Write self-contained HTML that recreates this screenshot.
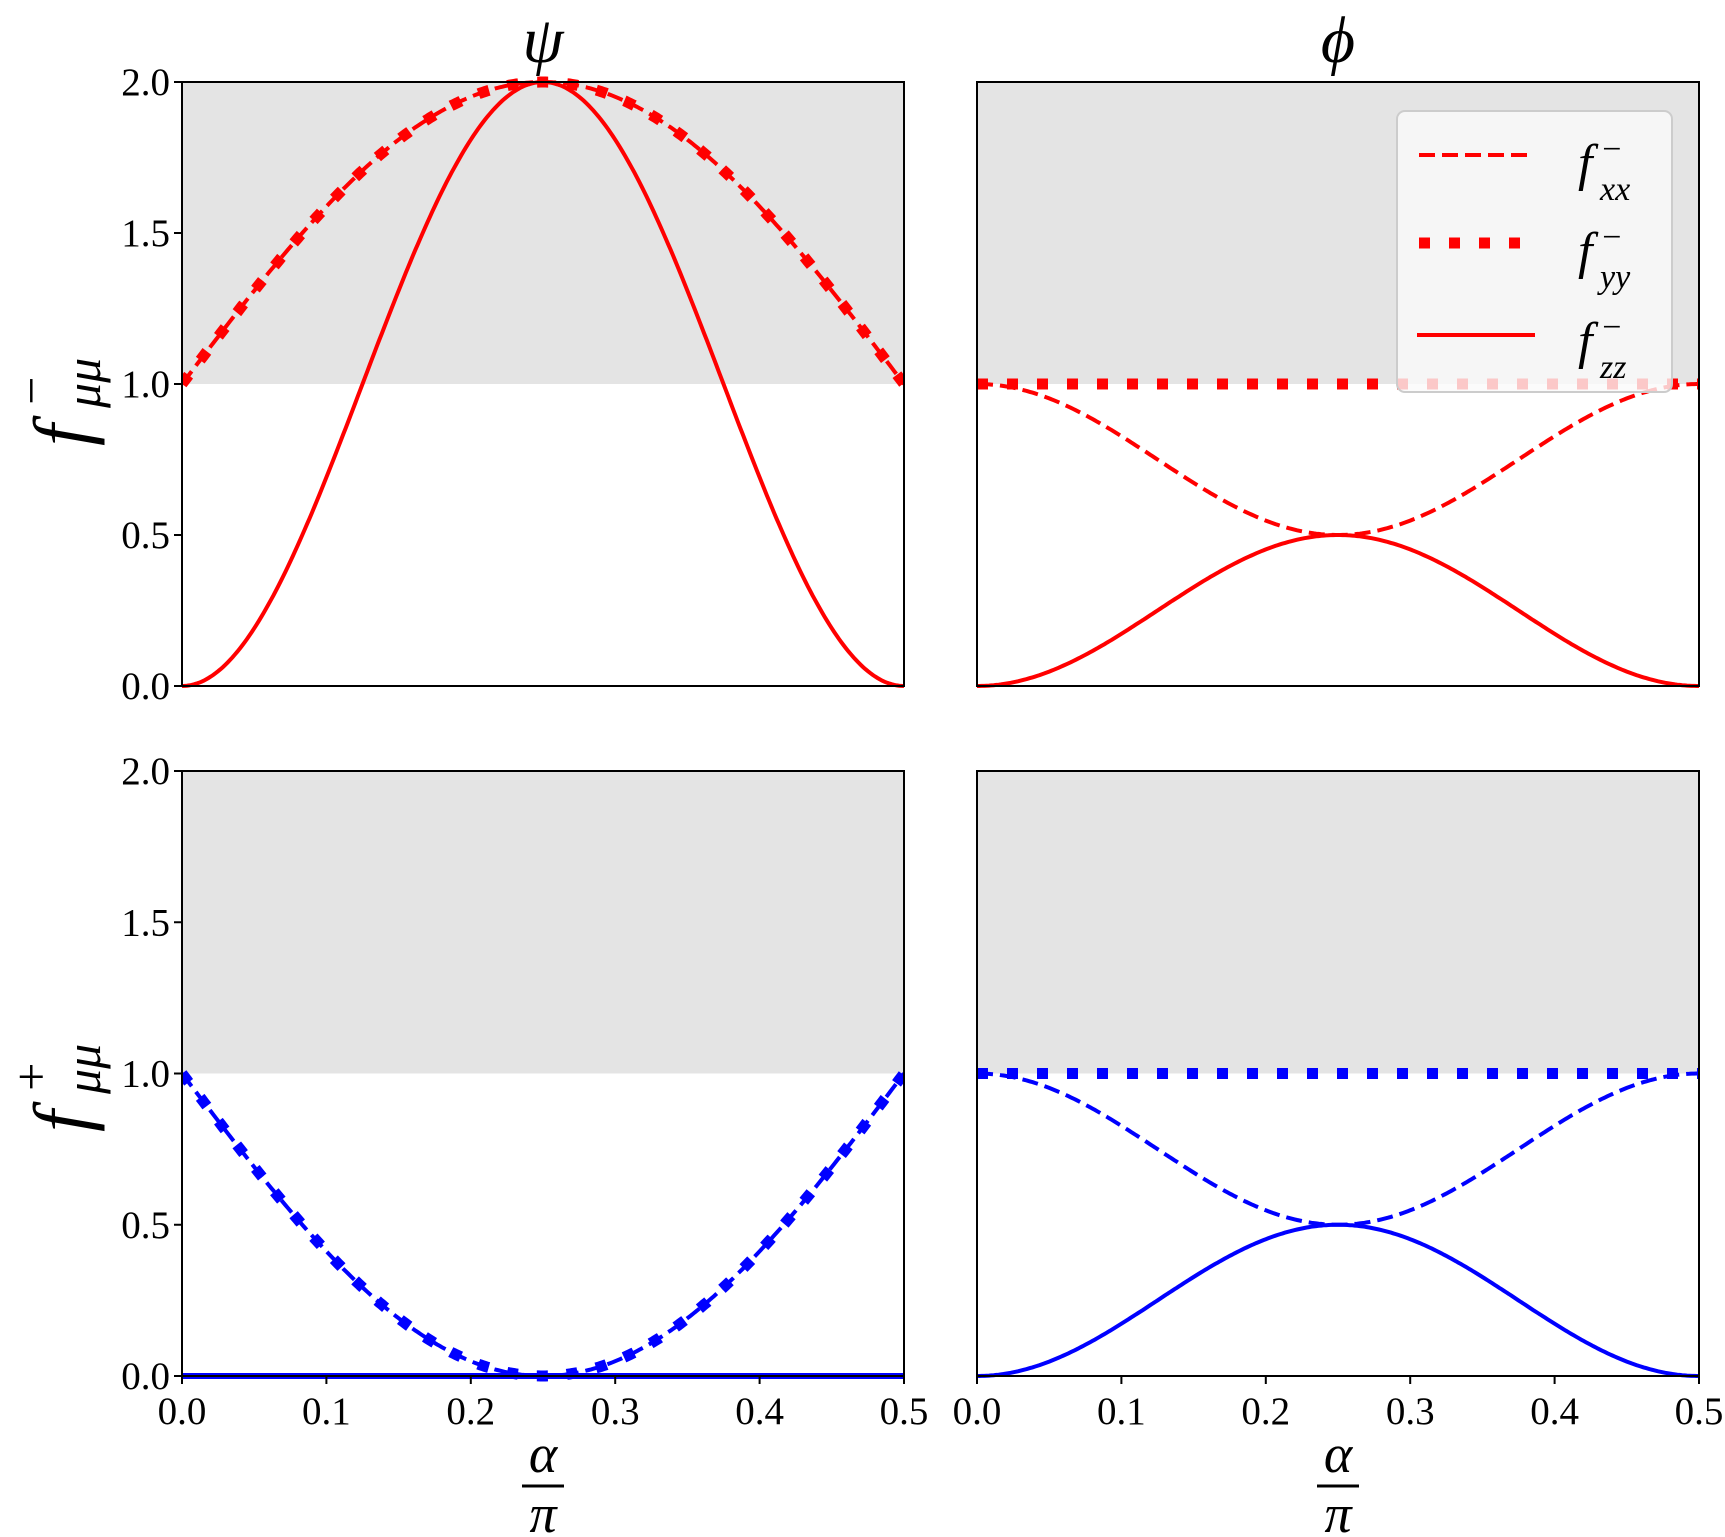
<!DOCTYPE html>
<html><head><meta charset="utf-8"><style>
html,body{margin:0;padding:0;background:#fff}
svg{display:block}
text{font-family:"Liberation Serif",serif;fill:#000}
</style></head><body>
<svg id="s" width="1725" height="1537" viewBox="0 0 1725 1537" xmlns="http://www.w3.org/2000/svg">
<g id="plots"></g>
<!-- titles -->
<text x="543" y="62" font-size="66" font-style="italic" text-anchor="middle">ψ</text>
<text x="1338" y="62" font-size="66" font-style="italic" text-anchor="middle">ϕ</text>
<!-- y labels -->
<g transform="translate(70,384) rotate(-90)" font-style="italic">
<text x="-62" y="18" font-size="78">f</text>
<text x="-24" y="-22" font-size="50">−</text>
<text x="-24" y="30" font-size="50">μμ</text>
</g>
<g transform="translate(70,1070) rotate(-90)" font-style="italic">
<text x="-62" y="18" font-size="78">f</text>
<text x="-24" y="-22" font-size="50">+</text>
<text x="-24" y="30" font-size="50">μμ</text>
</g>
<!-- x labels -->
<g font-size="54" font-style="italic" text-anchor="middle">
<text x="543" y="1472">α</text><line x1="522" y1="1486" x2="564" y2="1486" stroke="#000" stroke-width="3"/><text x="543" y="1532">π</text>
<text x="1338" y="1472">α</text><line x1="1317" y1="1486" x2="1359" y2="1486" stroke="#000" stroke-width="3"/><text x="1338" y="1532">π</text>
</g>
<!-- legend -->
<rect x="1397" y="111" width="275" height="281" rx="8" fill="#fafafa" fill-opacity="0.8" stroke="#ccc" stroke-width="2"/>
<line x1="1419" y1="155" x2="1533" y2="155" stroke="#f00" stroke-width="4" stroke-dasharray="16 7"/>
<line x1="1419" y1="243" x2="1521" y2="243" stroke="#f00" stroke-width="11" stroke-dasharray="11 19"/>
<line x1="1417" y1="335" x2="1535" y2="335" stroke="#f00" stroke-width="4"/>
<g font-style="italic">
<text x="1578" y="180" font-size="52">f</text><text x="1600" y="160" font-size="34">−</text><text x="1600" y="200" font-size="34">xx</text>
<text x="1578" y="268" font-size="52">f</text><text x="1600" y="248" font-size="34">−</text><text x="1600" y="288" font-size="34">yy</text>
<text x="1578" y="358" font-size="52">f</text><text x="1600" y="338" font-size="34">−</text><text x="1600" y="378" font-size="34">zz</text>
</g>
</svg>
<script>
var NS="http://www.w3.org/2000/svg",G=document.getElementById("plots");
function el(t,a,p){var e=document.createElementNS(NS,t);for(var k in a)e.setAttribute(k,a[k]);(p||G).appendChild(e);return e;}
var panels=[
 {x0:182,x1:904,y0:82,y1:686,col:"#f00",f:[function(a){return 1+Math.sin(2*a)},function(a){return 1+Math.sin(2*a)},function(a){return 2*Math.pow(Math.sin(2*a),2)}],yt:true,xt:false},
 {x0:977,x1:1699,y0:82,y1:686,col:"#f00",f:[function(a){return 1-0.5*Math.pow(Math.sin(2*a),2)},function(a){return 1},function(a){return 0.5*Math.pow(Math.sin(2*a),2)}],yt:false,xt:false},
 {x0:182,x1:904,y0:771,y1:1376,col:"#00f",zw:6,f:[function(a){return 1-Math.sin(2*a)},function(a){return 1-Math.sin(2*a)},function(a){return 0}],yt:true,xt:true},
 {x0:977,x1:1699,y0:771,y1:1376,col:"#00f",f:[function(a){return 1-0.5*Math.pow(Math.sin(2*a),2)},function(a){return 1},function(a){return 0.5*Math.pow(Math.sin(2*a),2)}],yt:false,xt:true}
];
var styles=[{w:4,d:"16 7"},{w:11,d:"11 19"},{w:4,d:""}];
panels.forEach(function(p,pi){
 var W=p.x1-p.x0,H=p.y1-p.y0;
 function X(t){return p.x0+t/0.5*W}function Y(v){return p.y1-v/2*H}
 el("rect",{x:p.x0,y:p.y0,width:W,height:H/2,fill:"#e4e4e4"});
 var cp=el("clipPath",{id:"c"+pi});el("rect",{x:p.x0,y:p.y0-8,width:W,height:H+16},cp);
 var order=[2,0,1];
 order.forEach(function(i){
  var pts=[];for(var k=0;k<=300;k++){var t=0.5*k/300;pts.push(X(t).toFixed(1)+","+Y(p.f[i](t*Math.PI)).toFixed(1));}
  var w=styles[i].w; if(i==2&&p.zw)w=p.zw;
  var a={points:pts.join(" "),fill:"none",stroke:p.col,"stroke-width":w,"clip-path":"url(#c"+pi+")"};
  if(styles[i].d)a["stroke-dasharray"]=styles[i].d;
  el("polyline",a);
 });
 el("rect",{x:p.x0,y:p.y0,width:W,height:H,fill:"none",stroke:"#000","stroke-width":2});
 if(p.yt){for(var v=0;v<=4;v++){var y=Y(v*0.5);el("line",{x1:p.x0-8,y1:y,x2:p.x0,y2:y,stroke:"#000","stroke-width":2});
  var t=el("text",{x:p.x0-12,y:y+13,"font-size":"39","text-anchor":"end"});t.textContent=(v*0.5).toFixed(1);}}
 if(p.xt){for(var v=0;v<=5;v++){var x=X(v*0.1);el("line",{x1:x,y1:p.y1,x2:x,y2:p.y1+8,stroke:"#000","stroke-width":2});
  var t=el("text",{x:x,y:p.y1+48,"font-size":"39","text-anchor":"middle"});t.textContent=(v*0.1).toFixed(1);}}
});
</script>
</body></html>
